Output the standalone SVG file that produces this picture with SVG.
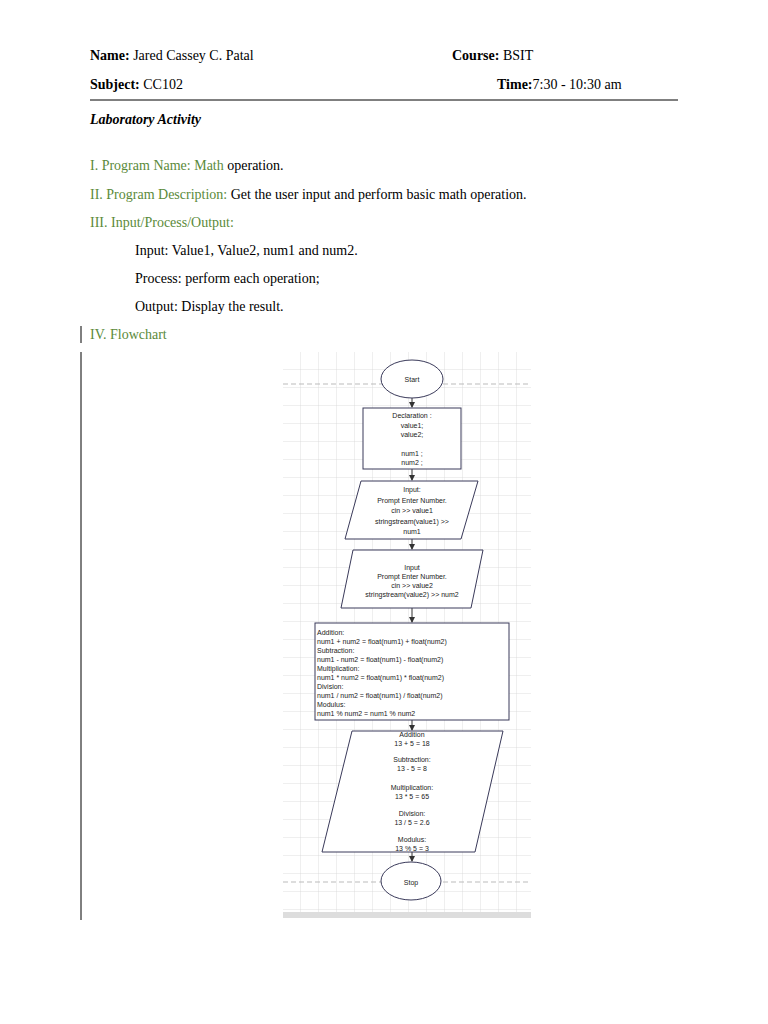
<svg xmlns="http://www.w3.org/2000/svg" width="768" height="1024" viewBox="0 0 768 1024">
<style>
.t{font-family:"Liberation Serif",serif;font-size:14px;fill:#000}
.g{fill:#5b8a3a}
.b{font-weight:bold}
.s{font-family:"Liberation Sans",sans-serif;font-size:7px;fill:#222}
.n{fill:#fff;stroke:#3a3a5a;stroke-width:1}
.c line{stroke:#333;stroke-width:1}
</style>
<defs>
<pattern id="grid" width="18" height="18" patternUnits="userSpaceOnUse" x="283" y="352">
<path d="M18 0V18H0" fill="none" stroke="#d6d6d6" stroke-width="0.8"/>
</pattern>
<marker id="ah" markerWidth="6" markerHeight="6" refX="5" refY="3" orient="auto"><path d="M0,0L6,3L0,6z" fill="#333"/></marker>
</defs>
<rect width="768" height="1024" fill="#fff"/>
<text class="t" x="90" y="60"><tspan class="b">Name:</tspan> Jared Cassey C. Patal</text>
<text class="t" x="452" y="60"><tspan class="b">Course:</tspan> BSIT</text>
<text class="t" x="90" y="89"><tspan class="b">Subject:</tspan> CC102</text>
<text class="t" x="497" y="89"><tspan class="b">Time:</tspan>7:30 - 10:30 am</text>
<line x1="90" y1="100" x2="678" y2="100" stroke="#000" stroke-width="1"/>
<text class="t b" x="90" y="124" font-style="italic">Laboratory Activity</text>
<text class="t" x="90" y="170"><tspan class="g">I. Program Name: Math</tspan> operation.</text>
<text class="t" x="90" y="199"><tspan class="g">II. Program Description:</tspan> Get the user input and perform basic math operation.</text>
<text class="t g" x="90" y="227">III. Input/Process/Output:</text>
<text class="t" x="135" y="255">Input: Value1, Value2, num1 and num2.</text>
<text class="t" x="135" y="283">Process: perform each operation;</text>
<text class="t" x="135" y="311">Output: Display the result.</text>
<line x1="81" y1="326" x2="81" y2="343" stroke="#000"/>
<text class="t g" x="90" y="339">IV. Flowchart</text>
<line x1="81" y1="352" x2="81" y2="920" stroke="#000"/>
<rect x="283" y="352" width="248" height="560" fill="url(#grid)"/>
<line x1="283" y1="384" x2="531" y2="384" stroke="#bbb" stroke-dasharray="5,3"/>
<line x1="283" y1="882" x2="531" y2="882" stroke="#bbb" stroke-dasharray="5,3"/>
<rect x="283" y="912" width="248" height="6" fill="#ddd"/>
<g class="c">
<line x1="412" y1="398" x2="412" y2="407" marker-end="url(#ah)"/>
<line x1="412" y1="469" x2="412" y2="480" marker-end="url(#ah)"/>
<line x1="412" y1="539" x2="412" y2="549" marker-end="url(#ah)"/>
<line x1="412" y1="608" x2="412" y2="622" marker-end="url(#ah)"/>
<line x1="412" y1="720" x2="412" y2="730" marker-end="url(#ah)"/>
<line x1="412" y1="852" x2="412" y2="861" marker-end="url(#ah)"/>
</g>
<g id="start"><ellipse class="n" cx="412" cy="379" rx="31" ry="19"/><text class="s" x="412" y="382" text-anchor="middle" font-size="10">Start</text></g>
<g id="decl"><rect class="n" x="363" y="408" width="98" height="61"/>
<text class="s" text-anchor="middle"><tspan x="412" y="418">Declaration :</tspan><tspan x="412" y="428">value1;</tspan><tspan x="412" y="437">value2;</tspan><tspan x="412" y="456">num1 ;</tspan><tspan x="412" y="465">num2 ;</tspan></text></g>
<g id="in1"><polygon class="n" points="361,481 478,481 461,539 345,539"/>
<text class="s" text-anchor="middle"><tspan x="412" y="492">Input:</tspan><tspan x="412" y="503">Prompt Enter Number.</tspan><tspan x="412" y="513">cin &gt;&gt; value1</tspan><tspan x="412" y="524">stringstream(value1) &gt;&gt;</tspan><tspan x="412" y="534">num1</tspan></text></g>
<g id="in2"><polygon class="n" points="353,550 483,550 471,608 341,608"/>
<text class="s" text-anchor="middle"><tspan x="412" y="570">Input</tspan><tspan x="412" y="579">Prompt Enter Number.</tspan><tspan x="412" y="588">cin &gt;&gt; value2</tspan><tspan x="412" y="597">stringstream(value2) &gt;&gt; num2</tspan></text></g>
<g id="proc"><rect class="n" x="315" y="623" width="194" height="97"/>
<text class="s"><tspan x="317" y="635">Addition:</tspan><tspan x="317" y="644">num1 + num2 = float(num1) + float(num2)</tspan><tspan x="317" y="653">Subtraction:</tspan><tspan x="317" y="662">num1 - num2 = float(num1) - float(num2)</tspan><tspan x="317" y="671">Multiplication:</tspan><tspan x="317" y="680">num1 * num2 = float(num1) * float(num2)</tspan><tspan x="317" y="689">Division:</tspan><tspan x="317" y="698">num1 / num2 = float(num1) / float(num2)</tspan><tspan x="317" y="707">Modulus:</tspan><tspan x="317" y="716">num1 % num2 = num1 % num2</tspan></text></g>
<g id="out"><polygon class="n" points="352,731 503,731 475,852 322,852"/>
<text class="s" text-anchor="middle"><tspan x="412" y="737">Addition</tspan><tspan x="412" y="746">13 + 5 = 18</tspan><tspan x="412" y="762">Subtraction:</tspan><tspan x="412" y="771">13 - 5 = 8</tspan><tspan x="412" y="790">Multiplication:</tspan><tspan x="412" y="799">13 * 5 = 65</tspan><tspan x="412" y="816">Division:</tspan><tspan x="412" y="825">13 / 5 = 2.6</tspan><tspan x="412" y="842">Modulus:</tspan><tspan x="412" y="851">13 % 5 = 3</tspan></text></g>
<g id="stop"><ellipse class="n" cx="411" cy="881" rx="30" ry="19"/><text class="s" x="411" y="885" text-anchor="middle" font-size="10">Stop</text></g>
</svg>
